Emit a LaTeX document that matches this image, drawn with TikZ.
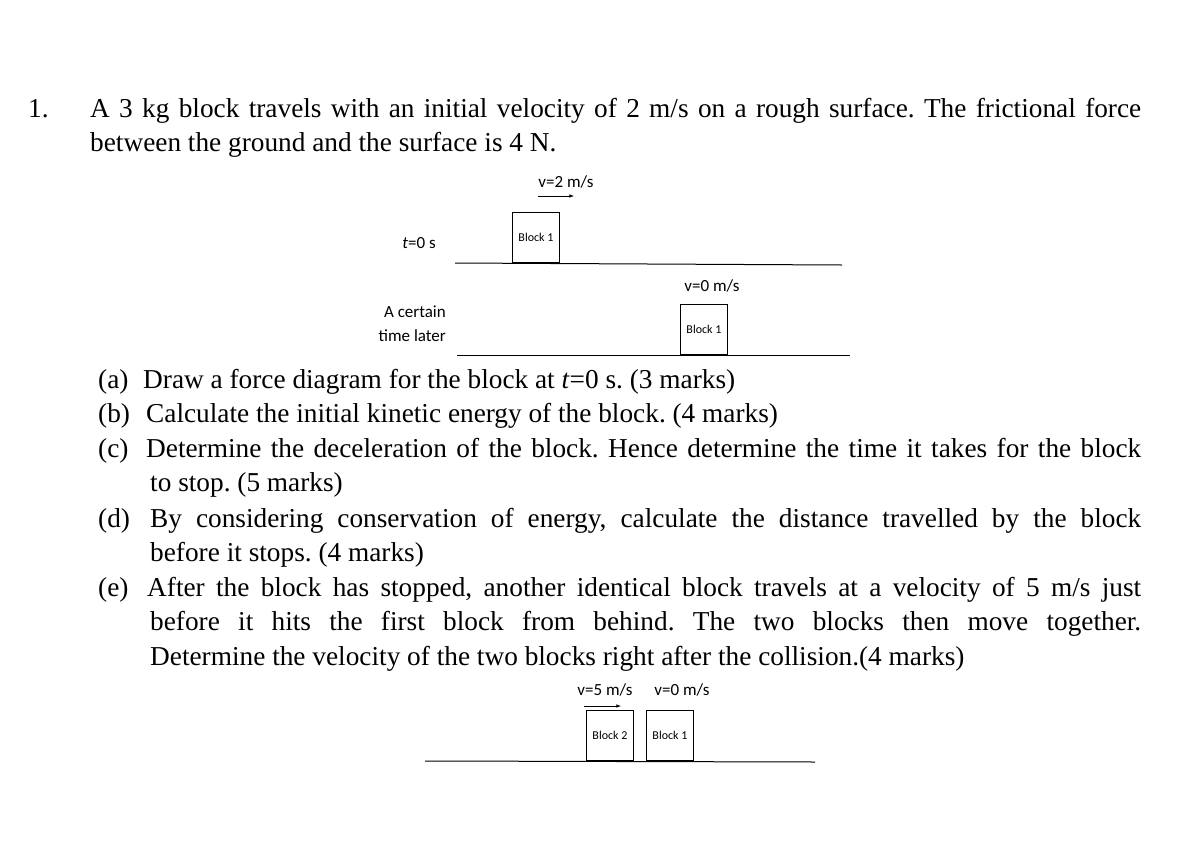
\documentclass[tikz,border=0pt]{standalone}
\usepackage{fontspec}
\setmainfont{Liberation Serif}
\newfontfamily\lblfont{Carlito}
\begin{document}
\frenchspacing
\begin{tikzpicture}[x=1pt,y=-1pt,
  txt/.style={anchor=base west,inner sep=0pt,align=justify,font=\fontsize{27.3}{34.5}\selectfont\frenchspacing},
  lbl/.style={inner sep=0pt,font=\lblfont\fontsize{17}{24}\selectfont},
  blk/.style={draw,line width=0.9pt,minimum width=47pt,minimum height=50pt,anchor=south west,inner sep=0pt,font=\lblfont\fontsize{12}{12}\selectfont},
  gnd/.style={line width=1pt},
  varr/.style={-latex,line width=0.6pt}]
\useasboundingbox (0,0) rectangle (1179,852);
\node[txt] (n1) at (28,117) {1.};
\node[txt,text width=1051pt] (p1) at (90,117) {A 3 kg block travels with an initial velocity of 2 m/s on a rough surface. The frictional force\linebreak between the ground and the surface is 4 N.};
% diagram 1
\coordinate (g1a) at (455,263); \coordinate (g1b) at (842,265);
\draw[gnd] (g1a) -- (g1b);
\node[blk] (b1) at (512,263) {Block 1};
\node[lbl,anchor=base] (t0) at (419,248) {\textit{t}=0 s};
\node[lbl,anchor=base] (v2) at (566,187) {v=2 m/s};
\coordinate (a1) at (538,196); \coordinate (a2) at (574,196);
\draw[varr] (a1) -- (a2);
% diagram 2
\coordinate (g2a) at (457,355); \coordinate (g2b) at (850,355);
\draw[gnd] (g2a) -- (g2b);
\node[blk] (b1l) at (680,355) {Block 1};
\node[lbl,anchor=base] (v0) at (712,291) {v=0 m/s};
\node[lbl,anchor=north east,align=right] (acl) at (446,306) {A certain\\time later};
% items
\node[txt] (la) at (98,388) {(a)};
\node[txt,text width=995pt] (ia) at (143,388) {Draw a force diagram for the block at \textit{t}=0 s. (3 marks)};
\node[txt] (lb) at (98,422) {(b)};
\node[txt,text width=995pt] (ib) at (146,422) {Calculate the initial kinetic energy of the block. (4 marks)};
\node[txt] (lc) at (98,457) {(c)};
\node[txt,text width=991pt] (ic) at (150,457) {\hspace*{-4pt}Determine the deceleration of the block. Hence determine the time it takes for the block\linebreak to stop. (5 marks)};
\node[txt] (ld) at (98,527) {(d)};
\node[txt,text width=991pt] (id) at (150,527) {By considering conservation of energy, calculate the distance travelled by the block\linebreak before it stops. (4 marks)};
\node[txt] (le) at (98,596) {(e)};
\node[txt,text width=991pt] (ie) at (150,596) {\hspace*{-3pt}After the block has stopped, another identical block travels at a velocity of 5 m/s just\linebreak before it hits the first block from behind. The two blocks then move together.\linebreak Determine the velocity of the two blocks right after the collision.(4 marks)};
% diagram 3
\coordinate (g3a) at (425,761); \coordinate (g3b) at (815,762);
\draw[gnd] (g3a) -- (g3b);
\node[blk] (b2) at (586,761) {Block 2};
\node[blk] (b1c) at (646,761) {Block 1};
\node[lbl,anchor=base] (v5) at (605,695) {v=5 m/s};
\node[lbl,anchor=base] (v0b) at (682,695) {v=0 m/s};
\coordinate (a3) at (584,706); \coordinate (a4) at (621,706);
\draw[varr] (a3) -- (a4);
\end{tikzpicture}
\end{document}
